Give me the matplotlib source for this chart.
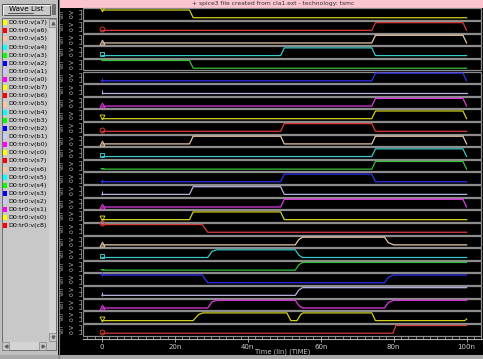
import matplotlib
matplotlib.use('Agg')
import matplotlib.pyplot as plt
from matplotlib.patches import Rectangle

W, H = 483, 359

names = ['a7', 'a6', 'a5', 'a4', 'a3', 'a2', 'a1', 'a0',
         'b7', 'b6', 'b5', 'b4', 'b3', 'b2', 'b1', 'b0',
         'c0', 's7', 's6', 's5', 's4', 's3', 's2', 's1', 's0', 'c8']
palette = ['#ffff00', '#ff0000', '#ffc896', '#00ffff', '#00ff00', '#0000ff', '#c8c8ff', '#ff00ff']
wave_colors = ['#d0d020', '#d83a3a', '#e6c8a8', '#38c8c8', '#38c038', '#3030f0', '#b4b4e0', '#e038e0']
markers = ['v', 'o', '^', 's', '_', '+', '|', '^']

tick_pos = [0, 20, 40, 60, 80, 100]
tick_lab = ['0', '20n', '40n', '60n', '80n', '100n']

# (time in ns, logic level) breakpoints
a7 = [(0, 1), (24, 1), (25, 0), (100, 0)]
a6 = [(0, 0), (74, 0), (75, 1), (99, 1), (100, 0)]
a5 = [(0, 0), (74, 0), (75, 1), (99, 1), (100, 0)]
a4 = [(0, 0), (49, 0), (50, 1), (74, 1), (75, 0), (100, 0)]
a3 = [(0, 1), (24, 1), (25, 0), (100, 0)]
a2 = [(0, 0), (74, 0), (75, 1), (99, 1), (100, 0)]
a1 = [(0, 0), (100, 0)]
a0 = [(0, 0), (74, 0), (75, 1), (99, 1), (100, 0)]
b7 = [(0, 0), (74, 0), (75, 1), (99, 1), (100, 0)]
b6 = [(0, 0), (49, 0), (50, 1), (74, 1), (75, 0), (100, 0)]
b5 = [(0, 0), (24, 0), (25, 1), (49, 1), (50, 0), (74, 0), (75, 1), (99, 1), (100, 0)]
b4 = [(0, 0), (74, 0), (75, 1), (99, 1), (100, 0)]
b3 = [(0, 0), (74, 0), (75, 1), (99, 1), (100, 0)]
b2 = [(0, 0), (49, 0), (50, 1), (74, 1), (75, 0), (100, 0)]
b1 = [(0, 0), (24, 0), (25, 1), (49, 1), (50, 0), (100, 0)]
b0 = [(0, 0), (49, 0), (50, 1), (99, 1), (100, 0)]
c0 = [(0, 0), (24, 0), (25, 1), (49, 1), (50, 0), (100, 0)]
s7 = [(0, 1), (27.5, 1), (29, 0), (100, 0)]
s6 = [(0, 0), (53, 0), (54, 0.7), (55, 1), (77.5, 1), (78.5, 0.3), (80, 0), (100, 0)]
s5 = [(0, 0), (29, 0), (30.2, 0.8), (31.5, 1), (53, 1), (54, 0.3), (55, 0), (100, 0)]
s4 = [(0, 0), (53, 0), (54, 0.7), (55, 1), (100, 1)]
s3 = [(0, 1), (27.5, 1), (29, 0), (77.5, 0), (78.5, 0.7), (80, 1), (100, 1)]
s2 = [(0, 0), (53, 0), (54, 0.7), (55, 1), (100, 1)]
s1 = [(0, 0), (29, 0), (30.2, 0.8), (31.5, 1), (53, 1), (54, 0.3), (55, 0),
      (77.5, 0), (78.5, 0.7), (80, 1), (100, 1)]
s0 = [(0, 0), (25, 0), (26.5, 0.8), (27.7, 1), (50.7, 1), (51.8, 0), (53.5, 0),
      (54.5, 0.8), (55.2, 1), (74, 1), (75, 0), (99.5, 0), (100, 0.2)]
c8 = [(0, 0), (79.8, 0), (80.6, 1), (100, 1)]

waves = [a7, a6, a5, a4, a3, a2, a1, a0, b7, b6, b5, b4, b3, b2, b1, b0,
         c0, s7, s6, s5, s4, s3, s2, s1, s0, c8]

ROW_TOP, PITCH = 8, 12.62

fig = plt.figure(figsize=(W / 100, H / 100), dpi=100)
fig.patch.set_facecolor('black')

# background / window chrome in pixel coordinates
bg = fig.add_axes([0, 0, 1, 1])
bg.set_xlim(0, W)
bg.set_ylim(H, 0)
bg.axis('off')

bg.add_patch(Rectangle((0, 0), 58, H, fc='#c0c0c0', ec='none'))
bg.plot([58.5, 58.5], [0, H], color='#808080', lw=0.8)
bg.add_patch(Rectangle((60, 0), W - 60, 7.5, fc='#fcc4cf', ec='none'))
bg.text(273, 3.8, '+ spice3 file created from cla1.ext - technology: tsmc',
        fontsize=4.3, color='#303030', ha='center', va='center')

# wave list button
bg.add_patch(Rectangle((2, 4), 48, 11, fc='#c8c8c8', ec='#404040', lw=0.6))
bg.plot([2.5, 49.5], [4.6, 4.6], color='white', lw=0.6)
bg.plot([2.6, 2.6], [4.6, 14.5], color='white', lw=0.6)
bg.text(26, 9.3, 'Wave List', fontsize=5.2, color='black', ha='center', va='center')
bg.plot([8, 33], [12.8, 12.8], color='black', lw=0.4)
bg.add_patch(Rectangle((52, 4), 4, 11, fc='#707070', ec='none'))

# list box with scrollbars
bg.add_patch(Rectangle((2, 18), 54, 332, fc='#c8c8c8', ec='#606060', lw=0.6))
bg.add_patch(Rectangle((49, 19), 7, 322, fc='#d4d4d4', ec='none'))
bg.add_patch(Rectangle((49, 19), 7, 8, fc='#c8c8c8', ec='#808080', lw=0.5))
bg.plot(52.5, 23, marker='^', ms=2, color='#606060')
bg.add_patch(Rectangle((49, 333), 7, 8, fc='#c8c8c8', ec='#808080', lw=0.5))
bg.plot(52.5, 337, marker='v', ms=2, color='#606060')
bg.add_patch(Rectangle((2, 342), 45, 8, fc='#d4d4d4', ec='none'))
bg.add_patch(Rectangle((2, 342), 7, 8, fc='#c8c8c8', ec='#808080', lw=0.5))
bg.plot(5.5, 346, marker='<', ms=2, color='#606060')
bg.add_patch(Rectangle((39, 342), 7, 8, fc='#c8c8c8', ec='#808080', lw=0.5))
bg.plot(42.5, 346, marker='>', ms=2, color='#606060')
bg.add_patch(Rectangle((0, 355), W, 4, fc='#a8a8a8', ec='none'))

for i, name in enumerate(names):
    y = 22.7 + 8.13 * i
    bg.add_patch(Rectangle((3, y - 2.5), 4, 5, fc=palette[i % 8], ec='none'))
    bg.text(8.0, y, 'D0:tr0:v(%s)' % name, fontsize=4.6, color='black', va='center')

# per-row frames and y labels
for i in range(len(names)):
    top = ROW_TOP + PITCH * i
    bg.add_patch(Rectangle((83, top + 0.4), 398, 11.6, fc='none', ec='#8c8c8c', lw=0.9))
    bg.text(62, top + 6, 'Vol', fontsize=4.3, color='#a0a0a0', rotation=90,
            ha='center', va='center')
    bg.text(72, top + 3.5, 'V', fontsize=4.3, color='#c0c0c0', rotation=90,
            ha='center', va='center')
    bg.text(72, top + 8.5, '0', fontsize=4.3, color='#c0c0c0', rotation=90,
            ha='center', va='center')
    bg.plot([81, 81], [top + 1.5, top + 10.5], color='#a0a0a0', lw=0.5)
    for ty in (top + 1.5, top + 6, top + 10.5):
        bg.plot([79, 81], [ty, ty], color='#a0a0a0', lw=0.5)

bg.text(283, 351.5, 'Time (lin) (TIME)', fontsize=4.9, color='#c8c8c8',
        ha='center', va='center')

# waveform axes
ax = fig.add_axes([83 / W, 1 - 339 / H, 400 / W, 331 / H])
ax.set_facecolor('none')
ax.set_xlim(-5.21, 104.5)
ax.set_ylim(331 / PITCH, 0)

for i, pts in enumerate(waves):
    t = [p[0] for p in pts]
    y = [i + 0.77 - 0.61 * p[1] for p in pts]
    c = wave_colors[i % 8]
    ax.plot(t, y, color=c, lw=0.9)
    ax.plot(t[0], y[0] - 0.1, marker=markers[i % 8], ms=3.5, mfc='none', mec=c, mew=0.7)

for s in ['top', 'left', 'right']:
    ax.spines[s].set_visible(False)
ax.spines['bottom'].set_color('#b4b4b4')
ax.spines['bottom'].set_linewidth(0.8)
ax.set_yticks([])
ax.set_xticks(tick_pos)
ax.set_xticklabels(tick_lab)
ax.set_xticks(list(range(-4, 105, 2)), minor=True)
ax.tick_params(axis='x', which='major', direction='inout', length=4, width=0.6,
               colors='#b4b4b4', labelsize=5.0, pad=1.5, labelcolor='#d0d0d0')
ax.tick_params(axis='x', which='minor', direction='in', length=2, width=0.5,
               colors='#b4b4b4')

fig.savefig('out.png', dpi=100, facecolor=fig.get_facecolor())
